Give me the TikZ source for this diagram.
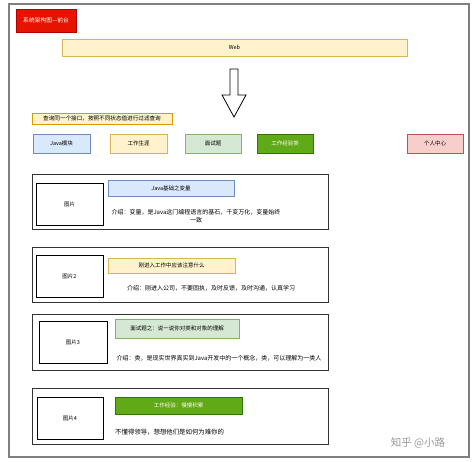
\documentclass[tikz,border=0pt]{standalone}
\usepackage{fontspec}
\setmainfont{Noto Sans CJK SC}
\definecolor{redf}{HTML}{E51400}
\definecolor{redd}{HTML}{B20000}
\definecolor{yelf}{HTML}{FFF2CC}
\definecolor{yeld}{HTML}{D6B656}
\definecolor{bluf}{HTML}{DAE8FC}
\definecolor{blud}{HTML}{6C8EBF}
\definecolor{grnf}{HTML}{D5E8D4}
\definecolor{grnd}{HTML}{82B366}
\definecolor{dgf}{HTML}{60A917}
\definecolor{dgd}{HTML}{2D7600}
\definecolor{pinf}{HTML}{F8CECC}
\definecolor{pind}{HTML}{B85450}
\definecolor{orgd}{HTML}{D79B00}
\begin{document}
\begin{tikzpicture}[x=1pt,y=-1pt,
  bx/.style={draw, rectangle, inner sep=0pt, line width=0.6pt, font=\fontsize{5.5}{6}\selectfont},
  card/.style={draw=black!80, rectangle, inner sep=0pt, line width=0.9pt},
  pic/.style={draw=black, rectangle, inner sep=0pt, line width=0.9pt, font=\fontsize{5.5}{6}\selectfont},
  desc/.style={inner sep=0pt, font=\fontsize{6}{8}\selectfont, align=center}]
\useasboundingbox (0,0) rectangle (474,462);
\fill[white] (0,0) rectangle (474,462);
\draw[draw=black!50, line width=1.2pt] (9,4) rectangle (469,457);
% title
\node[bx, fill=redf, draw=redd, text=white, minimum width=60, minimum height=23, font=\fontsize{5.8}{6}\selectfont] (title) at (46,20.5) {系统架构图—前台};
% web
\node[bx, fill=yelf, draw=yeld, minimum width=345, minimum height=17] (web) at (234.5,47.5) {Web};
% arrow
\draw[fill=white, line width=0.8pt] (230,69) -- (238,69) -- (238,95) -- (246,95) -- (234,117) -- (222,95) -- (230,95) -- cycle;
% query
\node[bx, fill=yelf, draw=orgd, minimum width=140, minimum height=11, font=\fontsize{5.6}{6}\selectfont] (query) at (102,118.5) {查询同一个接口，按照不同状态值进行过滤查询};
% tabs
\node[bx, fill=bluf, draw=blud, minimum width=57, minimum height=19] (t1) at (61.5,143.5) {Java模块};
\node[bx, fill=yelf, draw=yeld, minimum width=57, minimum height=19] (t2) at (138.5,143.5) {工作生涯};
\node[bx, fill=grnf, draw=grnd, minimum width=56, minimum height=19] (t3) at (213,143.5) {面试题};
\node[bx, fill=dgf, draw=dgd, text=white, minimum width=56, minimum height=19] (t4) at (285,143.5) {工作经验类};
\node[bx, fill=pinf, draw=pind, minimum width=56, minimum height=19] (t5) at (435,143.5) {个人中心};
% card 1
\node[card, minimum width=296, minimum height=55] (c1) at (180,201.5) {};
\node[pic, minimum width=67, minimum height=42] (p1) at (69.5,204) {图片};
\node[bx, fill=bluf, draw=blud, minimum width=126, minimum height=16] (h1) at (171,188) {Java基础之变量};
\node[desc] (d1) at (196,216) {介绍：变量，是Java这门编程语言的基石，千变万化，变量始终\\一致};
% card 2
\node[card, minimum width=296, minimum height=55] (c2) at (180,274.5) {};
\node[pic, minimum width=67, minimum height=42] (p2) at (69.5,276) {图片2};
\node[bx, fill=yelf, draw=yeld, minimum width=127, minimum height=15] (h2) at (171.5,265.5) {刚进入工作中应该注意什么};
\node[desc] (d2) at (211,288) {介绍：刚进入公司，不要固执，及时反馈，及时沟通，认真学习};
% card 3
\node[card, minimum width=296, minimum height=56] (c3) at (180,342) {};
\node[pic, minimum width=68, minimum height=42] (p3) at (73,342) {图片3};
\node[bx, fill=grnf, draw=grnd, minimum width=124, minimum height=19] (h3) at (177,328.5) {面试题之：说一说你对类和对象的理解};
\node[desc] (d3) at (219,358) {介绍：类，是现实世界真实到Java开发中的一个概念，类，可以理解为一类人};
% card 4
\node[card, minimum width=296, minimum height=56] (c4) at (180,416) {};
\node[pic, minimum width=66, minimum height=42] (p4) at (70,418) {图片4};
\node[bx, fill=dgf, draw=dgd, text=white, minimum width=127, minimum height=17] (h4) at (178.5,405.5) {工作经验：慢慢积累};
\node[desc, anchor=west, font=\fontsize{6.4}{8}\selectfont] (d4) at (115,432) {不懂得领导，想想他们是如何为难你的};
% watermark
\node[inner sep=0pt, text=black!40, font=\fontsize{10.5}{12}\selectfont] (wm) at (418,443) {知乎 @小路};
\end{tikzpicture}
\end{document}
